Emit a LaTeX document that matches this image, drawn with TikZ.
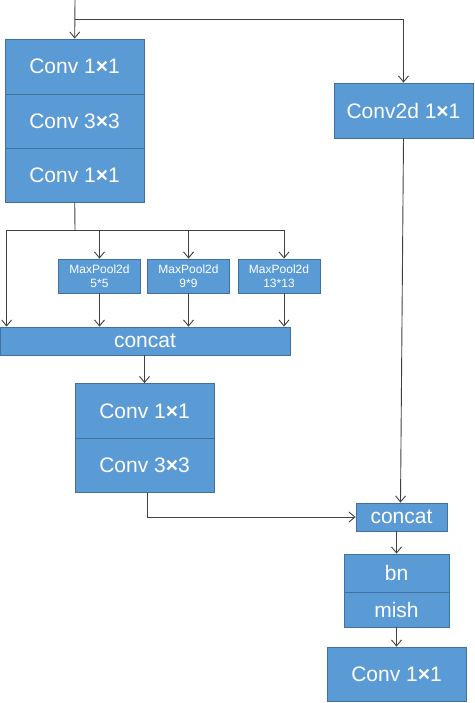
\documentclass[tikz,border=0pt]{standalone}
\usepackage{fontspec}
\setmainfont{Liberation Sans}
\usetikzlibrary{arrows.meta}
\definecolor{boxblue}{HTML}{5B9BD5}
\definecolor{boxline}{HTML}{41719C}
\definecolor{wire}{HTML}{404040}
\newcommand{\bx}{\textbf{×}}

\begin{document}
\begin{tikzpicture}[x=1pt, y=-1pt,
    every node/.style={rectangle, draw=boxline, fill=boxblue, text=white, line width=0.8pt, inner sep=0pt, font=\fontsize{21}{25}\selectfont},
    small/.style={minimum width=82pt, minimum height=34pt, font=\fontsize{12}{14}\selectfont, align=center},
    arr/.style={-{Straight Barb[length=6pt, width=10pt]}, wire, line width=0.9pt},
    wireline/.style={wire, line width=0.9pt}]
    \useasboundingbox (0,0) rectangle (474,703);

    \node[minimum width=139pt, minimum height=55pt] (c1) at (74.5, 66.5) {Conv 1\bx1};
    \node[minimum width=139pt, minimum height=54pt] (c2) at (74.5,121.0) {Conv 3\bx3};
    \node[minimum width=139pt, minimum height=54pt] (c3) at (74.5,175.0) {Conv 1\bx1};

    \node[minimum width=139pt, minimum height=55pt] (conv2d) at (403.5,110.5) {Conv2d 1\bx1};

    \node[small] (mp1) at ( 99.5,276) {MaxPool2d\\5*5};
    \node[small] (mp2) at (188.5,276) {MaxPool2d\\9*9};
    \node[small] (mp3) at (279.0,276) {MaxPool2d\\13*13};

    \node[minimum width=290pt, minimum height=28pt] (cat1) at (145,341) {concat};

    \node[minimum width=139pt, minimum height=55pt] (c4) at (144.5,411.0) {Conv 1\bx1};
    \node[minimum width=139pt, minimum height=54pt] (c5) at (144.5,465.5) {Conv 3\bx3};

    \node[minimum width=91pt, minimum height=28pt] (cat2) at (401.5,517) {concat};
    \node[minimum width=105pt, minimum height=38pt] (bn) at (396.5,573) {bn};
    \node[minimum width=105pt, minimum height=35pt] (mish) at (396.5,609.5) {mish};
    \node[minimum width=139pt, minimum height=54pt] (c6) at (396.5,674) {Conv 1\bx1};

    \coordinate (in) at (75,0);
    \coordinate (split) at (75,19);
    \coordinate (br) at (75,230);

    \draw[arr] (in) -- (c1);
    \draw[arr] (split) -| (conv2d);

    \draw[wireline] (c3) -- (br);
    \draw[arr] (br) -| ([xshift=7pt]cat1.north west);
    \draw[arr] (br) -| (mp1);
    \draw[arr] (br) -| (mp2);
    \draw[arr] (br) -| ([xshift=5pt]mp3.north);

    \draw[arr] (mp1) -- (mp1 |- cat1.north);
    \draw[arr] (mp2) -- (mp2 |- cat1.north);
    \draw[arr] ([xshift=5pt]mp3.south) -- ([xshift=5pt]mp3.south |- cat1.north);

    \draw[arr] (cat1.south -| c4) -- (c4);
    \draw[arr] ([xshift=3pt]c5.south) |- (cat2);
    \draw[arr] (conv2d.south) -- ([xshift=-1pt]cat2.north);

    \draw[arr] (cat2.south -| bn) -- (bn);
    \draw[arr] (mish) -- (c6);
\end{tikzpicture}
\end{document}
